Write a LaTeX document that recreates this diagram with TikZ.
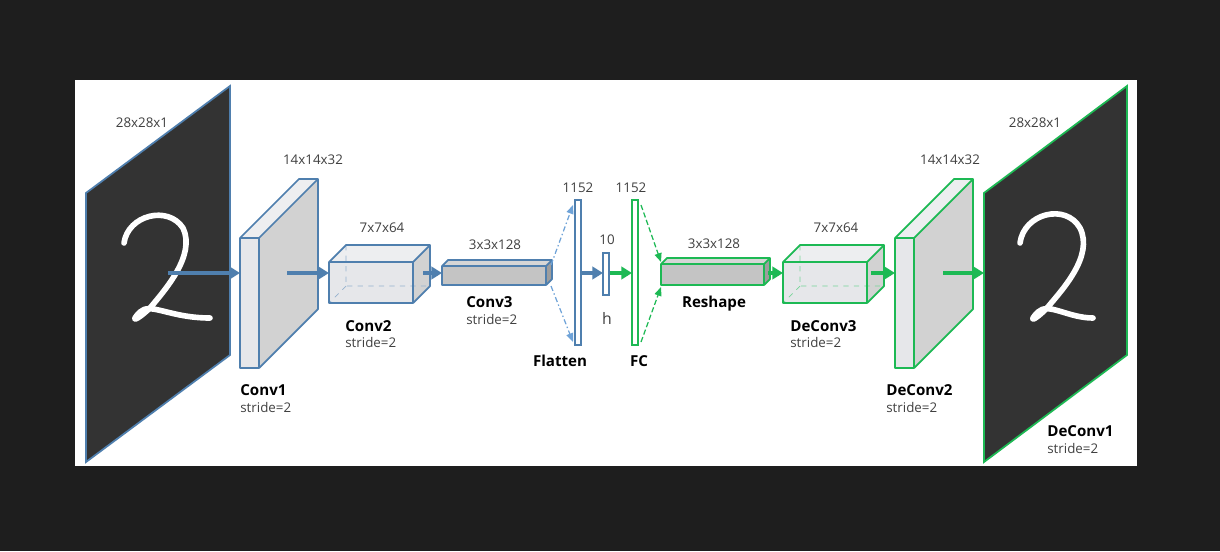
\documentclass[tikz,border=0pt]{standalone}
\usepackage{fontspec}
\setmainfont{Open Sans}
\usetikzlibrary{arrows.meta}
\definecolor{bg}{HTML}{1E1E1E}
\definecolor{bl}{HTML}{4F7FAE}
\definecolor{lbl}{HTML}{6FA3D8}
\definecolor{gr}{HTML}{1DB954}
\definecolor{dk}{HTML}{333333}
\definecolor{fr}{HTML}{E6E7EA}
\definecolor{sd}{HTML}{D2D2D2}
\definecolor{gb}{HTML}{C4C4C4}
\tikzset{
 dim/.style={font=\fontsize{7.6}{9}\selectfont, text=black!75},
 ttl/.style={font=\bfseries\fontsize{8.6}{10}\selectfont, anchor=west, inner sep=0},
 str/.style={font=\fontsize{7.6}{9}\selectfont, text=black!75, anchor=west, inner sep=0},
 arr/.style={line width=2.2pt, -{Triangle[length=6pt,width=7pt]}},
 dd/.style={line width=0.7pt, dash pattern=on 3pt off 1.5pt on 0.8pt off 1.5pt, -{Triangle[length=5pt,width=4pt]}},
 digit/.style={white, line width=3.2pt, line cap=round, line join=round},
}
% box: #1 x, #2 y top, #3 width, #4 height, #5 depth, #6 colour, #7 front fill, #8 side fill, #9 hidden dashed (1/0)
\newcommand{\mybox}[9]{%
 \fill[#7] (#1,#2) rectangle ++(#3,#4);
 \fill[#8] (#1+#3,#2) -- ++(#5,-#5) -- ++(0,#4) -- ++(-#5,#5) -- cycle;
 \fill[#7!70!white] (#1,#2) -- ++(#5,-#5) -- ++(#3,0) -- ++(-#5,#5) -- cycle;
 \ifnum#9=1
 \draw[#6!60, dashed, line width=0.4pt] (#1+#5,#2-#5) -- ++(0,#4) -- ++(#3,0) (#1+#5,#2-#5+#4) -- ++(-#5,#5);
 \fi
 \draw[#6, line width=1pt, line join=round] (#1,#2) rectangle ++(#3,#4)
   (#1,#2) -- ++(#5,-#5) -- ++(#3,0) -- ++(0,#4) -- ++(-#5,#5) (#1+#3,#2) -- ++(#5,-#5);
}
\begin{document}
\begin{tikzpicture}[x=0.02cm,y=-0.02cm]
\fill[bg] (0,0) rectangle (1220,551);
\fill[white] (75,80) rectangle (1137,466);
% input
\path[fill=dk, draw=bl, line width=1pt] (86,193) coordinate (i1) -- (230,86) -- (230,355) -- (86,462) -- cycle;
\draw[digit] (124,243) .. controls (128,215) and (168,205) .. (183,228) .. controls (196,255) and (165,290) .. (150,308)
  .. controls (135,322) and (130,322) .. (140,312) .. controls (150,302) and (170,318) .. (210,318);
\node[dim] at (142,123) {28x28x1};
% output
\path[fill=dk, draw=gr, line width=1pt] (984,193) -- (1127,86) -- (1127,355) -- (984,462) -- cycle;
\draw[digit] (1020,243) .. controls (1024,213) and (1066,203) .. (1080,228) .. controls (1094,256) and (1062,290) .. (1047,308)
  .. controls (1033,322) and (1028,322) .. (1038,312) .. controls (1048,302) and (1068,318) .. (1093,318);
\node[dim] at (1035,123) {28x28x1};
% encoder
\mybox{240}{238}{19}{130}{59}{bl}{fr}{sd}{0}
\node[dim] at (313,160) {14x14x32};
\node[ttl] at (240,390) {Conv1}; \node[str] at (240,407) {stride=2};
\mybox{329}{262}{84}{41}{17}{bl}{fr}{sd}{1}
\node[dim] at (382,228) {7x7x64};
\node[ttl] at (345,326) {Conv2}; \node[str] at (345,342) {stride=2};
\mybox{442}{266}{104}{19}{6}{bl}{gb}{gb!80!black}{0}
\node[dim] at (495,245) {3x3x128};
\node[ttl] at (466,302) {Conv3}; \node[str] at (466,319) {stride=2};
\draw[bl, line width=1pt, fill=white] (575,200) rectangle (581,345);
\node[dim] at (578,188) {1152};
\node[ttl, anchor=center] at (560,361) {Flatten};
\draw[bl, line width=1pt, fill=white] (603,253) rectangle (609,295);
\node[dim] at (607,240) {10};
\node[dim, font=\fontsize{9}{10}\selectfont] at (607,318) {h};
% decoder
\draw[gr, line width=1pt, fill=white] (632,200) rectangle (638,345);
\node[dim] at (631,188) {1152};
\node[ttl, anchor=center] at (639,361) {FC};
\mybox{661}{264}{103}{21}{6}{gr}{gb}{gb!80!black}{0}
\node[dim] at (714,244) {3x3x128};
\node[ttl, anchor=center] at (714,304) {Reshape};
\mybox{783}{262}{84}{41}{17}{gr}{fr}{sd}{1}
\node[dim] at (836,228) {7x7x64};
\node[ttl] at (790,326) {DeConv3}; \node[str] at (790,342) {stride=2};
\mybox{895}{238}{19}{130}{59}{gr}{fr}{sd}{0}
\node[dim] at (950,160) {14x14x32};
\node[ttl] at (886,390) {DeConv2}; \node[str] at (886,407) {stride=2};
\node[ttl] at (1047,431) {DeConv1}; \node[str] at (1047,448) {stride=2};
% arrows
\draw[arr, bl] (168,273) -- (240,273);
\draw[arr, bl] (287,273) -- (329,273);
\draw[arr, bl] (423,273) -- (442,273);
\draw[dd, lbl] (551,265) -- (573,205);
\draw[dd, lbl] (551,286) -- (573,342);
\draw[arr, bl] (582,273) -- (603,273);
\draw[arr, gr] (610,273) -- (632,273);
\draw[dd, gr, dash pattern=on 3pt off 1.5pt] (641,205) -- (661,262);
\draw[dd, gr, dash pattern=on 3pt off 1.5pt] (641,342) -- (661,287);
\draw[arr, gr] (768,273) -- (783,273);
\draw[arr, gr] (871,273) -- (895,273);
\draw[arr, gr] (943,273) -- (984,273);
\end{tikzpicture}
\end{document}
